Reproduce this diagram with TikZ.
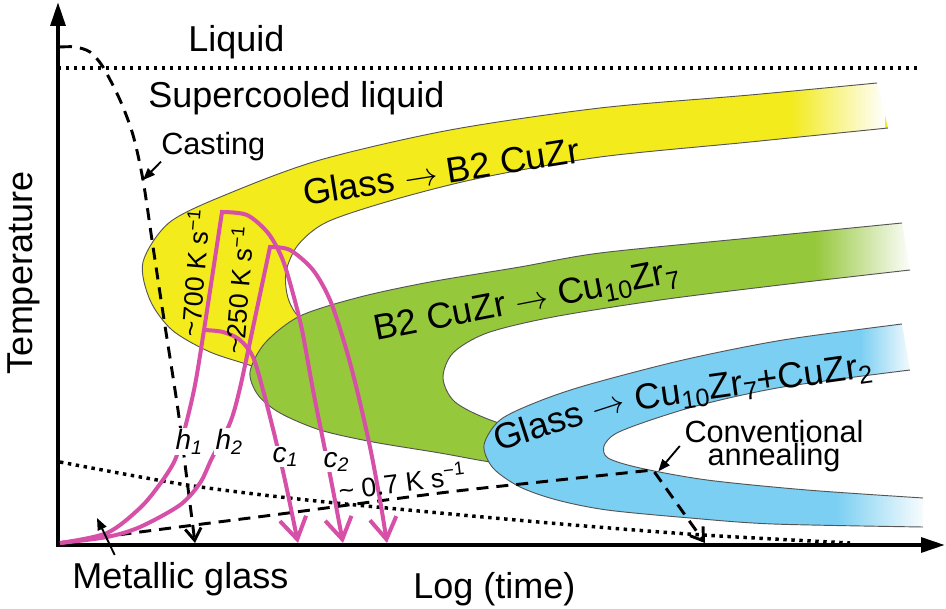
\documentclass[tikz,border=0pt]{standalone}
\usepackage{fontspec}
\setmainfont{Liberation Sans}
\usetikzlibrary{arrows.meta,fadings}
\definecolor{bandyellow}{RGB}{243,235,28}
\definecolor{bandgreen}{RGB}{150,200,60}
\definecolor{bandblue}{RGB}{122,207,242}
\definecolor{heatpink}{RGB}{214,80,168}
\definecolor{edgegray}{RGB}{85,85,85}
\newcommand{\toarrow}{$\rightarrow$}

\begin{document}
\begin{tikzpicture}[x=0.75pt,y=-0.75pt,
	bigtext/.style={font=\fontsize{27}{32}\selectfont, inner sep=0pt},
	midtext/.style={font=\fontsize{23}{17.3}\selectfont},
	ratetext/.style={font=\fontsize{20}{24}\selectfont, inner sep=0pt},
	pathlbl/.style={font=\fontsize{21}{25}\selectfont\itshape, fill=white, inner sep=1pt, anchor=base west},
	bandedge/.style={draw=edgegray, line width=0.7pt},
	fadeout/.style={fill=white, path fading=west},
	treat/.style={heatpink, line width=3pt, -{Straight Barb[length=16pt,width=20pt]}},
	dashpath/.style={line width=2.2pt, dash pattern=on 9pt off 6pt, -{Straight Barb[length=9pt,width=12pt]}},
	dotpath/.style={line width=2.6pt, dash pattern=on 2.6pt off 3.4pt},
	lblarrow/.style={line width=1.4pt, -{Triangle[length=9pt,width=7pt]}},
	axis/.style={line width=3pt, -{Triangle[length=18pt,width=11pt]}}]
	\useasboundingbox (0,0) rectangle (946,609);

	% transformation bands
	\fill[bandyellow] plot[smooth] coordinates {(877,83) (750,95) (600,108) (450,130) (320,160) (230,193) (170,222) (143,262) (150,300) (172,330) (210,352) (255,367) (300,385)}
		-- plot[smooth] coordinates {(330,335) (300,318) (288,298) (286,272) (298,245) (327,222) (393,200) (480,178) (600,157) (750,142) (888,128)} -- cycle;
	\fill[fadeout] (790,75) rectangle (885,140);
	\draw[bandedge] plot[smooth] coordinates {(877,83) (750,95) (600,108) (450,130) (320,160) (230,193) (170,222) (143,262) (150,300) (172,330) (210,352) (255,367) (300,385)};
	\draw[bandedge] plot[smooth] coordinates {(330,335) (300,318) (288,298) (286,272) (298,245) (327,222) (393,200) (480,178) (600,157) (750,142) (888,128)};

	\fill[bandgreen] plot[smooth] coordinates {(902,223) (750,238) (600,253) (520,267) (430,282) (360,297) (300,316) (265,343) (250,372) (258,395) (280,413) (320,430) (373,442) (440,453) (490,462) (560,472)}
		-- plot[smooth] coordinates {(560,440) (493,421) (455,402) (443,378) (453,353) (487,333) (553,317) (660,300) (780,285) (910,270)} -- cycle;
	\fill[fadeout] (815,215) rectangle (912,278);
	\draw[bandedge] plot[smooth] coordinates {(902,223) (750,238) (600,253) (520,267) (430,282) (360,297) (300,316) (265,343) (250,372) (258,395) (280,413) (320,430) (373,442) (440,453) (490,462) (560,472)};
	\draw[bandedge] plot[smooth] coordinates {(560,440) (493,421) (455,402) (443,378) (453,353) (487,333) (553,317) (660,300) (780,285) (910,270)};

	\fill[bandblue] plot[smooth] coordinates {(902,324) (783,340) (683,360) (587,385) (537,402) (500,420) (484,445) (493,468) (520,487) (557,500) (607,510) (690,518) (773,524) (923,527)}
		-- plot[smooth] coordinates {(923,498) (807,490) (707,480) (640,468) (608,458) (604,446) (615,434) (645,422) (700,405) (783,387) (910,370)} -- cycle;
	\fill[fadeout] (860,318) rectangle (915,378);
	\fill[fadeout] (835,490) rectangle (928,533);
	\draw[bandedge] plot[smooth] coordinates {(902,324) (783,340) (683,360) (587,385) (537,402) (500,420) (484,445) (493,468) (520,487) (557,500) (607,510) (690,518) (773,524) (923,527)};
	\draw[bandedge] plot[smooth] coordinates {(923,498) (807,490) (707,480) (640,468) (608,458) (604,446) (615,434) (645,422) (700,405) (783,387) (910,370)};

	\node[bigtext, rotate=9, anchor=base west] (ylab) at (305,206) {Glass \toarrow{} B2 CuZr};
	\node[bigtext, rotate=11, anchor=base west] (glab) at (376,341) {B2 CuZr \toarrow{} Cu\textsubscript{10}Zr\textsubscript{7}};
	\node[bigtext, rotate=18, anchor=base west] (blab) at (498,452) {Glass \toarrow};
	\node[bigtext, rotate=8, anchor=base west] (bprod) at ([xshift=7pt]blab.base east) {Cu\textsubscript{10}Zr\textsubscript{7}+CuZr\textsubscript{2}};

	% liquidus and lower limit
	\draw[dotpath] (58,68) -- (920,68);
	\draw[dotpath] plot[smooth] coordinates {(60,462) (187,485) (307,500) (440,513) (573,525) (703,535) (850,543)};

	% axes
	\coordinate (origin) at (58,545);
	\draw[axis] (58,547) -- (58,2);
	\draw[axis] (56,545) -- (945,545);

	% casting and annealing
	\coordinate (castpt) at (143,180);
	\coordinate (annealpt) at (653,470);
	\draw[dashpath] plot[smooth] coordinates {(60,47) (75,47) (90,52) (103,67) (120,100) (133,135) (castpt) (152,240) (163,313) (178,410) (188,488) (195,543)};
	\draw[dashpath] plot[smooth] coordinates {(60,543) (140,532) (273,515) (440,493) (540,482) (annealpt)} -- (705,543);

	% flash annealing
	\coordinate (peakA) at (222,212);
	\coordinate (peakB) at (270,247);
	\coordinate (peakC) at (204,330);
	\draw[treat] plot[smooth] coordinates {(60,543) (107,533) (140,508) (160,484) (175,460) (185,428) (195,385) (peakC) (peakA)}
		-- plot[smooth] coordinates {(peakA) (247,215) (268,233) (282,258) (292,290) (302,330) (313,390) (323,440) (332,485) (343,543)};
	\draw[treat] plot[smooth] coordinates {(60,543) (107,537) (140,527) (180,505) (200,483) (212,458) (230,423) (240,388) (255,318) (peakB)}
		-- plot[smooth] coordinates {(peakB) (290,250) (313,270) (330,300) (345,345) (357,390) (370,447) (380,500) (387,543)};
	\draw[treat] plot[smooth] coordinates {(peakC) (223,332) (240,340) (253,357) (263,390) (275,437) (286,485) (298,543)};

	\node[pathlbl] (h1) at (174,450) {h\textsubscript{1}};
	\node[pathlbl] (h2) at (214,450) {h\textsubscript{2}};
	\node[pathlbl] (c1) at (271,462) {c\textsubscript{1}};
	\node[pathlbl] (c2) at (322,467) {c\textsubscript{2}};

	\node[ratetext, rotate=85] (r700) at (194,273) {\textasciitilde700 K s\textsuperscript{−1}};
	\node[ratetext, rotate=85] (r250) at (238,290) {\textasciitilde250 K s\textsuperscript{−1}};
	\node[ratetext, rotate=7] (r07) at (402,481) {\textasciitilde\ 0.7 K s\textsuperscript{−1}};

	% labels
	\node[bigtext, anchor=base west] (liquid) at (188,52) {Liquid};
	\node[bigtext, anchor=base west] (supercooled) at (148,108) {Supercooled liquid};
	\node[bigtext, rotate=90, anchor=base] (templbl) at (32,273) {Temperature};
	\node[bigtext, anchor=base west] (timelbl) at (413,598) {Log (time)};

	\node[midtext, anchor=base west, inner sep=0pt] (casting) at (161,155) {Casting};
	\draw[lblarrow] (casting.south west) -- (castpt);

	\node[bigtext, anchor=base west] (metglass) at (72,588) {Metallic glass};
	\coordinate (glasspt) at (97,518);
	\draw[lblarrow] ([xshift=32pt,yshift=5pt]metglass.north west) -- (glasspt);

	\node[midtext, align=center] (conv) at (774,446) {Conventional\\annealing};
	\draw[lblarrow] (conv.west) -- ([xshift=4pt,yshift=-1pt]annealpt);

\end{tikzpicture}
\end{document}
